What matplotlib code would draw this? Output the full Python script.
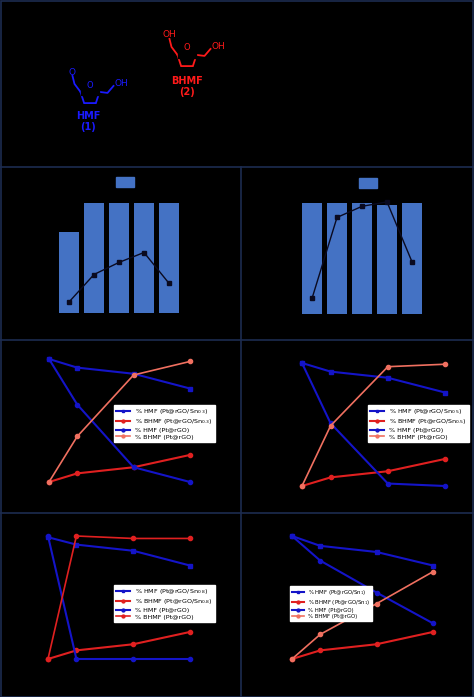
import matplotlib
matplotlib.use("Agg")
import matplotlib.pyplot as plt
from matplotlib.patches import Rectangle, Polygon
import numpy as np

W, H = 474, 697
# ---- data ----
bar_cats = [0, 1, 2, 3, 4]
barsA = [74, 100, 100, 100, 100]
lineA = [10, 35, 46, 55, 27]
barsB = [100, 100, 100, 98, 100]
lineB = [14, 87, 97, 101, 47]

time_h = [0, 1, 3, 5]
# panel C
c_hmf_sn = [100, 93, 88, 76]; c_bhmf_sn = [0, 7, 12, 22]
c_hmf_rgo = [100, 63, 12, 0]; c_bhmf_rgo = [0, 37, 87, 98]
# panel D
d_hmf_sn = [100, 93, 88, 76]; d_bhmf_sn = [0, 7, 12, 22]
d_hmf_rgo = [100, 51, 2, 0]; d_bhmf_rgo = [0, 49, 97, 99]
# panel E
e_hmf_sn = [99, 93, 88, 76]; e_bhmf_sn = [0, 7, 12, 22]
e_hmf_rgo = [100, 0, 0, 0]; e_bhmf_rgo = [0, 100, 98, 98]
# panel F
f_hmf_sn = [100, 92, 87, 76]; f_bhmf_sn = [0, 7, 12, 22]
f_hmf_rgo = [100, 80, 54, 29]; f_bhmf_rgo = [0, 20, 45, 71]
subs = ['0.3', '0.5', '0.8', '1']

fig = plt.figure(figsize=(W/100, H/100), dpi=100, facecolor='black')
ov = fig.add_axes([0, 0, 1, 1]); ov.set_xlim(0, W); ov.set_ylim(H, 0); ov.axis('off')
bc = '#1c2c50'
for y in [167, 340, 513]:
    ov.plot([0, W], [y, y], color=bc, lw=1.2)
ov.plot([241, 241], [167, H], color=bc, lw=1.2)
ov.add_patch(Rectangle((0.5, 0.5), W-1, H-1, fill=False, ec=bc, lw=1.2))

def ring(cx, cy, col, r=10):
    ang = np.deg2rad(90 + 72*np.arange(5))
    pts = np.c_[cx + r*np.cos(ang), cy - r*np.sin(ang)]
    ov.add_patch(Polygon(pts, closed=True, fill=False, ec=col, lw=1.3))
    return pts
# HMF
p = ring(90, 95, '#1a1aff')
ov.text(p[0][0], p[0][1], 'O', color='#1a1aff', fontsize=6, ha='center', va='center', backgroundcolor='black')
ov.plot([p[1][0], p[1][0]-6, p[1][0]-8], [p[1][1], p[1][1]-8, p[1][1]-16], color='#1a1aff', lw=1.3)
ov.text(p[1][0]-8, p[1][1]-19, 'O', color='#1a1aff', fontsize=6.5, ha='center', va='center')
ov.plot([p[4][0], p[4][0]+8, p[4][0]+14], [p[4][1], p[4][1]+1, p[4][1]-6], color='#1a1aff', lw=1.3)
ov.text(p[4][0]+15, p[4][1]-8, 'OH', color='#1a1aff', fontsize=6.5, ha='left', va='center')
ov.text(88, 116, 'HMF', color='#1a1aff', fontsize=7, weight='bold', ha='center', va='center')
ov.text(88, 127, '(1)', color='#1a1aff', fontsize=7, weight='bold', ha='center', va='center')
# BHMF
q = ring(187, 58, '#ff1a1a')
ov.text(q[0][0], q[0][1], 'O', color='#ff1a1a', fontsize=6, ha='center', va='center', backgroundcolor='black')
ov.plot([q[1][0], q[1][0]-6, q[1][0]-8], [q[1][1], q[1][1]-8, q[1][1]-16], color='#ff1a1a', lw=1.3)
ov.text(q[1][0]-8, q[1][1]-20, 'OH', color='#ff1a1a', fontsize=6.5, ha='center', va='center')
ov.plot([q[4][0], q[4][0]+8, q[4][0]+14], [q[4][1], q[4][1]+1, q[4][1]-6], color='#ff1a1a', lw=1.3)
ov.text(q[4][0]+15, q[4][1]-8, 'OH', color='#ff1a1a', fontsize=6.5, ha='left', va='center')
ov.text(187, 81, 'BHMF', color='#ff1a1a', fontsize=7, weight='bold', ha='center', va='center')
ov.text(187, 92, '(2)', color='#ff1a1a', fontsize=7, weight='bold', ha='center', va='center')

def rect(x0, y0, x1, y1):
    return [x0/W, 1 - y1/H, (x1-x0)/W, (y1-y0)/H]

barcol = '#4472c4'
for bars, line, r, leg in [(barsA, lineA, (56.5, 203, 181.5, 313), (116, 177)),
                           (barsB, lineB, (299.5, 203, 424.5, 314), (359, 178))]:
    ax = fig.add_axes(rect(*r)); ax.axis('off')
    ax.set_xlim(-0.5, 4.5); ax.set_ylim(0, 100)
    ax.bar(bar_cats, bars, width=0.8, color=barcol)
    ax.plot(bar_cats, line, color='#0a0a20', lw=1, marker='s', ms=2.5, clip_on=False)
    ov.add_patch(Rectangle(leg, 18, 10, color=barcol))

blue, red, lblue, salmon = '#1414c8', '#e02020', '#1414c8', '#f07060'
panels = [
    ((49, 359, 190, 482), (c_hmf_sn, c_bhmf_sn, c_hmf_rgo, c_bhmf_rgo), (114, 405), 4.6, salmon),
    ((302, 363, 445, 486), (d_hmf_sn, d_bhmf_sn, d_hmf_rgo, d_bhmf_rgo), (368, 405), 4.6, salmon),
    ((48, 536, 190, 659), (e_hmf_sn, e_bhmf_sn, e_hmf_rgo, e_bhmf_rgo), (114, 585), 4.6, red),
    ((292, 536, 433, 659), (f_hmf_sn, f_bhmf_sn, f_hmf_rgo, f_bhmf_rgo), (290, 586), 3.9, salmon),
]
for i, (r, (hs, bs, hr, br), lg, fs, c4) in enumerate(panels):
    ax = fig.add_axes(rect(*r)); ax.axis('off')
    ax.set_xlim(0, 5); ax.set_ylim(0, 100)
    s = subs[i]
    l1, = ax.plot(time_h, hs, color=blue, lw=1.5, marker='s', ms=3, clip_on=False,
                  label='%% HMF (Pt@rGO/Sn$_{%s}$)' % s)
    l2, = ax.plot(time_h, bs, color=red, lw=1.5, marker='o', ms=3, clip_on=False,
                  label='%% BHMF (Pt@rGO/Sn$_{%s}$)' % s)
    l3, = ax.plot(time_h, hr, color=lblue, lw=1.5, marker='o', ms=3, clip_on=False, label='% HMF (Pt@rGO)')
    l4, = ax.plot(time_h, br, color=c4, lw=1.2, marker='o', ms=3, clip_on=False, label='% BHMF (Pt@rGO)')
    leg = ax.legend(handles=[l1, l2, l3, l4], loc='upper left', bbox_to_anchor=(lg[0]/W, 1 - lg[1]/H),
                    bbox_transform=fig.transFigure, borderaxespad=0, fontsize=fs, frameon=True,
                    fancybox=False, framealpha=1, edgecolor='white', handlelength=2.2,
                    labelspacing=0.2, borderpad=0.3, markerscale=0.7)
    leg.get_frame().set_facecolor('white')

fig.savefig('out.png', dpi=100, facecolor='black')
